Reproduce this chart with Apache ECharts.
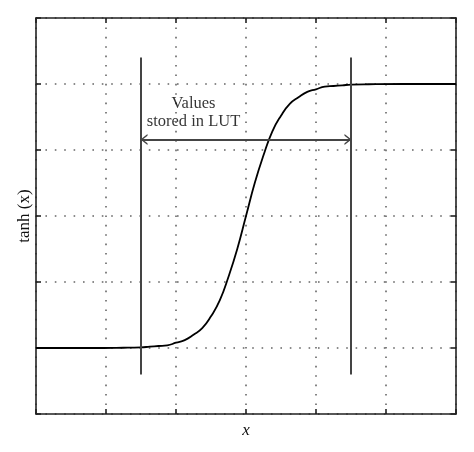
<!DOCTYPE html>
<html>
<head>
<meta charset="utf-8">
<script src="https://cdn.jsdelivr.net/npm/echarts@6/dist/echarts.min.js"></script>
<style>
  html, body { margin: 0; padding: 0; background: #fff; }
  #main { width: 474px; height: 452px; }
</style>
</head>
<body>
<div id="main"></div>
<script>
// values
const xValues = [-6, -4.5, -3.5, -3, -2.75, -2.5, -2.25, -2, -1.75, -1.5, -1.25, -1, -0.75, -0.5, -0.25, 0,
  0.25, 0.5, 0.75, 1, 1.25, 1.5, 1.75, 2, 2.25, 2.5, 2.75, 3, 3.5, 4.5, 6];
const tanhValues = [-1, -1, -0.998, -0.995, -0.99, -0.985, -0.98, -0.96, -0.94, -0.9, -0.85, -0.76, -0.64, -0.46, -0.25, 0,
  0.25, 0.46, 0.64, 0.76, 0.85, 0.9, 0.94, 0.96, 0.98, 0.985, 0.99, 0.995, 0.998, 1, 1];
const lutBounds = [-3, 3];
const lutLineSpan = [-1.2, 1.2];
const arrowLevel = 0.58;
const noteAt = [-1.5, 0.78];
const noteText = "Values\nstored in LUT";

const serif = "'Liberation Serif', 'DejaVu Serif', serif";
const chevron = "path://M0,10 L5,0 L10,10 L8.4,10 L5,3.2 L1.6,10 Z";

let myChart = echarts.init(document.getElementById("main"));

const frameAxis = {
  type: "value",
  axisLine: { show: true, onZero: false, lineStyle: { color: "#222", width: 1.6 } },
  axisTick: { show: true, inside: true, length: 5, lineStyle: { color: "#222", width: 1.6 } },
  axisLabel: { show: false },
  splitLine: { show: false }
};
const dotted = { color: "#666", width: 1.6, type: [1.6, 7.8] };

let option = {
  animation: false,
  grid: { left: 36, top: 18, right: 18, bottom: 38 },
  xAxis: [
    Object.assign({}, frameAxis, {
      min: -6, max: 6, interval: 2,
      name: "x", nameLocation: "middle", nameGap: 8,
      nameTextStyle: { fontFamily: serif, fontStyle: "italic", fontSize: 17, color: "#111" },
      splitLine: { show: true, lineStyle: dotted }
    }),
    Object.assign({}, frameAxis, { position: "top", min: -6, max: 6, interval: 2 })
  ],
  yAxis: [
    Object.assign({}, frameAxis, {
      min: -1.5, max: 1.5, interval: 0.5,
      name: "tanh (x)", nameLocation: "middle", nameGap: 3, nameRotate: 90,
      nameTextStyle: { fontFamily: serif, fontSize: 17, color: "#111" },
      splitLine: { show: true, lineStyle: dotted }
    }),
    Object.assign({}, frameAxis, { position: "right", min: -1.5, max: 1.5, interval: 0.5 })
  ],
  series: [
    {
      type: "line",
      data: xValues.map((x, i) => [x, tanhValues[i]]),
      smooth: 0.5,
      showSymbol: false,
      lineStyle: { color: "#000", width: 1.8 }
    },
    {
      // LUT bounds and the arrow between them
      type: "line",
      data: [],
      markLine: {
        silent: true,
        animation: false,
        label: { show: false },
        lineStyle: { color: "#444", width: 2, type: "solid" },
        symbol: "none",
        data: [
          [{ coord: [lutBounds[0], lutLineSpan[0]] }, { coord: [lutBounds[0], lutLineSpan[1]] }],
          [{ coord: [lutBounds[1], lutLineSpan[0]] }, { coord: [lutBounds[1], lutLineSpan[1]] }],
          [
            { coord: [lutBounds[0], arrowLevel], symbol: chevron, symbolSize: [11, 7], symbolOffset: [0, 3] },
            { coord: [lutBounds[1], arrowLevel], symbol: chevron, symbolSize: [11, 7], symbolOffset: [0, 3] }
          ]
        ]
      }
    },
    {
      type: "scatter",
      data: [noteAt],
      symbolSize: 0,
      silent: true,
      label: {
        show: true,
        position: "inside",
        formatter: noteText,
        fontFamily: serif,
        fontSize: 16.5,
        lineHeight: 18,
        color: "#000",
        align: "center"
      }
    }
  ]
};

myChart.setOption(option);
</script>
</body>
</html>
